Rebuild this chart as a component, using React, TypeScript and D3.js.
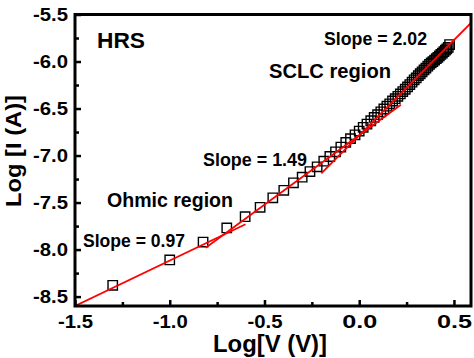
import React, { useRef, useEffect } from 'react';
import * as d3 from 'd3';

// log10 of V = 0.05 ... 3.00 V (0.05 V steps)
const logV = [
  -1.301, -1.0, -0.824, -0.699, -0.602, -0.523, -0.456, -0.398, -0.347, -0.301,
  -0.26, -0.222, -0.187, -0.155, -0.125, -0.097, -0.071, -0.046, -0.022, 0.0,
  0.021, 0.041, 0.061, 0.079, 0.097, 0.114, 0.13, 0.146, 0.161, 0.176,
  0.19, 0.204, 0.217, 0.23, 0.243, 0.255, 0.267, 0.279, 0.29, 0.301,
  0.312, 0.322, 0.332, 0.342, 0.352, 0.362, 0.371, 0.38, 0.389, 0.398,
  0.407, 0.415, 0.423, 0.431, 0.439, 0.447, 0.455, 0.462, 0.47, 0.477,
];
const logI = [
  -8.38, -8.11, -7.92, -7.77, -7.65, -7.55, -7.45, -7.37, -7.29, -7.23,
  -7.17, -7.12, -7.06, -7.01, -6.96, -6.91, -6.86, -6.82, -6.78, -6.74,
  -6.7, -6.665, -6.63, -6.595, -6.565, -6.535, -6.505, -6.475, -6.45, -6.42,
  -6.395, -6.37, -6.345, -6.32, -6.295, -6.27, -6.245, -6.22, -6.195, -6.175,
  -6.15, -6.13, -6.11, -6.09, -6.07, -6.05, -6.03, -6.015, -6.0, -5.985,
  -5.97, -5.955, -5.94, -5.925, -5.91, -5.895, -5.88, -5.865, -5.85, -5.82,
];

// fitted lines, endpoints
const fitOhmicX = [-1.5, -0.6];
const fitOhmicY = [-8.6, -7.73];
const fitMidX = [-0.81, 0.22];
const fitMidY = [-7.98, -6.46];
const fitSclcX = [-0.2, 0.59];
const fitSclcY = [-7.19, -5.59];

const xTicks = [-1.5, -1.0, -0.5, 0.0, 0.5];
const xTickLabels = ['-1.5', '-1.0', '-0.5', '0.0', '0.5'];
const xMinor = [-1.25, -0.75, -0.25, 0.25];
const yTicks = [-8.5, -8.0, -7.5, -7.0, -6.5, -6.0, -5.5];
const yTickLabels = ['-8.5', '-8.0', '-7.5', '-7.0', '-6.5', '-6.0', '-5.5'];
const yMinor = [-8.25, -7.75, -7.25, -6.75, -6.25, -5.75];

const FONT = '"Liberation Sans", Arial, Helvetica, sans-serif';

const App = () => {
  const svgRef = useRef<SVGSVGElement | null>(null);

  useEffect(() => {
    const width = 474;
    const height = 358;
    const plot = { left: 75, right: 471, top: 14.5, bottom: 306 };

    const svg = d3.select(svgRef.current)
      .attr('width', width)
      .attr('height', height);
    svg.selectAll('*').remove();

    const x = d3.scaleLinear().domain([-1.5, 0.59]).range([plot.left, plot.right]);
    const y = d3.scaleLinear().domain([-8.6, -5.5]).range([plot.bottom, plot.top]);

    svg.append('rect')
      .attr('width', width).attr('height', height).attr('fill', '#fff');

    svg.append('clipPath').attr('id', 'plotclip')
      .append('rect')
      .attr('x', plot.left).attr('y', plot.top)
      .attr('width', plot.right - plot.left).attr('height', plot.bottom - plot.top);

    // data squares
    const pts = logV.map((v, i) => [v, logI[i]] as [number, number]);
    const sq = d3.symbol(d3.symbolSquare, 88);
    svg.append('g')
      .selectAll('path')
      .data(pts)
      .join('path')
      .attr('transform', d => `translate(${x(d[0])},${y(d[1])})`)
      .attr('d', sq())
      .attr('fill', 'none')
      .attr('stroke', '#000')
      .attr('stroke-width', 1.4);

    // fit lines
    const line = d3.line<[number, number]>().x(d => x(d[0])).y(d => y(d[1]));
    const fits = [
      [fitOhmicX, fitOhmicY],
      [fitMidX, fitMidY],
      [fitSclcX, fitSclcY],
    ];
    svg.append('g').attr('clip-path', 'url(#plotclip)')
      .selectAll('path')
      .data(fits)
      .join('path')
      .attr('d', f => line(f[0].map((v, i) => [v, f[1][i]] as [number, number])))
      .attr('fill', 'none')
      .attr('stroke', '#ff0000')
      .attr('stroke-width', 1.8);

    // axes
    const xAxis = svg.append('g')
      .attr('transform', `translate(0,${plot.bottom})`)
      .call(d3.axisBottom(x).tickValues(xTicks).tickSize(-6).tickPadding(9)
        .tickFormat((d, i) => xTickLabels[i]));
    svg.append('g')
      .attr('transform', `translate(0,${plot.bottom})`)
      .call(d3.axisBottom(x).tickValues(xMinor).tickSize(-4).tickFormat(() => ''));

    const yAxis = svg.append('g')
      .attr('transform', `translate(${plot.left},0)`)
      .call(d3.axisLeft(y).tickValues(yTicks).tickSize(-6).tickPadding(7)
        .tickFormat((d, i) => yTickLabels[i]));
    svg.append('g')
      .attr('transform', `translate(${plot.left},0)`)
      .call(d3.axisLeft(y).tickValues(yMinor).tickSize(-4).tickFormat(() => ''));

    svg.selectAll('.tick line').attr('stroke', '#000').attr('stroke-width', 2.5);
    svg.selectAll('.domain').remove();

    [xAxis, yAxis].forEach(g => {
      g.selectAll('text')
        .attr('font-family', FONT)
        .attr('font-size', 18.5)
        .attr('font-weight', 'bold')
        .attr('fill', '#000')
        .attr('textLength', 35)
        .attr('lengthAdjust', 'spacingAndGlyphs');
    });

    // frame
    svg.append('rect')
      .attr('x', plot.left).attr('y', plot.top)
      .attr('width', plot.right - plot.left).attr('height', plot.bottom - plot.top)
      .attr('fill', 'none').attr('stroke', '#000').attr('stroke-width', 3);

    // annotations
    const notes = [
      { t: 'HRS', x: 97, y: 48, s: 22, w: 48 },
      { t: 'Slope = 2.02', x: 324, y: 45, s: 18.5, w: 103 },
      { t: 'SCLC region', x: 269, y: 78, s: 20, w: 122 },
      { t: 'Slope = 1.49', x: 203, y: 166, s: 18.5, w: 104 },
      { t: 'Ohmic region', x: 107, y: 206.5, s: 20, w: 126 },
      { t: 'Slope = 0.97', x: 83, y: 246.5, s: 18.5, w: 102 },
    ];
    svg.append('g')
      .selectAll('text')
      .data(notes)
      .join('text')
      .attr('x', d => d.x)
      .attr('y', d => d.y)
      .attr('font-family', FONT)
      .attr('font-weight', 'bold')
      .attr('font-size', d => d.s)
      .attr('textLength', d => d.w)
      .attr('lengthAdjust', 'spacingAndGlyphs')
      .text(d => d.t);

    // axis titles
    svg.append('text')
      .attr('x', 213)
      .attr('y', 352)
      .attr('font-family', FONT)
      .attr('font-weight', 'bold')
      .attr('font-size', 23)
      .attr('textLength', 114)
      .attr('lengthAdjust', 'spacingAndGlyphs')
      .text('Log[V (V)]');

    svg.append('text')
      .attr('transform', 'translate(20.5,207) rotate(-90)')
      .attr('font-family', FONT)
      .attr('font-weight', 'bold')
      .attr('font-size', 22)
      .attr('textLength', 112)
      .attr('lengthAdjust', 'spacingAndGlyphs')
      .text('Log [I (A)]');
  }, []);

  return (
    <svg ref={svgRef} style={{ position: 'absolute', left: 0, top: 0 }}></svg>
  );
};

export default App;
